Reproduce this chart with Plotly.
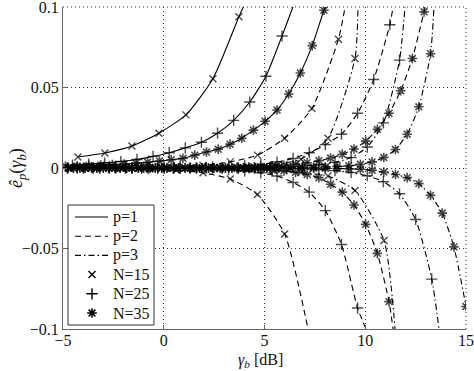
import plotly.graph_objects as go

# ---------------- data ----------------
# x grids of the sampled points (one grid per p / N combination)
g15_p1 = [-4.26, -2.92, -1.58, -0.24, 1.1, 2.44, 3.73]
g15_p2 = [-4.7, -3.37, -2.04, -0.71, 0.62, 1.95, 3.3, 4.65, 6.0, 7.35, 8.67]
g15_p3 = [-3.91, -2.57, -1.23, 0.11, 1.45, 2.79, 4.13, 5.47, 6.81, 8.15, 9.49, 10.93]

g25_p1 = [-4.53, -3.73, -2.93, -2.13, -1.33, -0.53, 0.27, 1.07, 1.87, 2.67, 3.47, 4.27, 5.07, 5.87]
g25_p2 = [-4.78, -3.98, -3.18, -2.38, -1.58, -0.78, 0.02, 0.82, 1.62, 2.42, 3.22, 4.02, 4.82,
          5.62, 6.42, 7.22, 8.02, 8.82, 9.62, 10.42, 11.22]
g25_p3 = [-4.3, -3.5, -2.7, -1.9, -1.1, -0.3, 0.5, 1.3, 2.1, 2.9, 3.7, 4.5, 5.3, 6.1, 6.9,
          7.7, 8.5, 9.3, 10.1, 10.9, 11.7, 12.5, 13.3]

g35_p1 = [-4.88, -4.3, -3.71, -3.13, -2.55, -1.96, -1.38, -0.8, -0.21, 0.37, 0.95, 1.54, 2.12,
          2.7, 3.29, 3.87, 4.45, 5.03, 5.62, 6.2, 6.78, 7.37, 7.95]
g35_p2 = [-4.48, -3.9, -3.32, -2.74, -2.16, -1.58, -1.0, -0.42, 0.16, 0.74, 1.32, 1.9, 2.48,
          3.06, 3.64, 4.22, 4.8, 5.38, 5.96, 6.54, 7.12, 7.7, 8.28, 8.86, 9.44, 10.02, 10.6,
          11.18, 11.76, 12.34, 12.92]
g35_p3 = [-4.74, -4.16, -3.58, -3.0, -2.42, -1.84, -1.26, -0.68, -0.1, 0.48, 1.06, 1.64, 2.22,
          2.8, 3.38, 3.96, 4.54, 5.12, 5.7, 6.28, 6.86, 7.44, 8.02, 8.6, 9.18, 9.76, 10.34,
          10.92, 11.5, 12.08, 12.66, 13.24, 13.82, 14.4, 15.0]

# y values (upper "up" and lower "dn" branches)
y15_p1_up = [0.0068, 0.0093, 0.0136, 0.0216, 0.033, 0.0555, 0.094]
y15_p2_up = [0.0, 0.0001, 0.0002, 0.0004, 0.0008, 0.0016, 0.0038, 0.008, 0.0185, 0.037, 0.080]
y15_p2_dn = [0.0, -0.0001, -0.0003, -0.0006, -0.0013, -0.003, -0.0068, -0.0165, -0.041]
y15_p3_up = [0.0, 0.0, 0.0001, 0.0001, 0.0002, 0.0004, 0.0009, 0.002, 0.0055, 0.0185, 0.068]
y15_p3_dn = [0.0, 0.0, -0.0001, -0.0001, -0.0002, -0.0004, -0.0008, -0.0015, -0.0028, -0.005,
             -0.014, -0.045]

y25_p1_up = [0.0018, 0.0024, 0.0031, 0.004, 0.0053, 0.0072, 0.0095, 0.0125, 0.016, 0.0216,
             0.0296, 0.041, 0.057, 0.082]
y25_p2_up = [0.0, 0.0, 0.0, 0.0, 0.0, 0.0001, 0.0001, 0.0002, 0.0003, 0.0005, 0.0008, 0.0013,
             0.0022, 0.0037, 0.006, 0.0095, 0.0145, 0.021, 0.034, 0.055, 0.089]
y25_p2_dn = [0.0, 0.0, 0.0, 0.0, -0.0001, -0.0001, -0.0001, -0.0002, -0.0003, -0.0006, -0.001,
             -0.0018, -0.003, -0.005, -0.009, -0.015, -0.0265, -0.0475, -0.087]
y25_p3_up = [0.0, 0.0, 0.0, 0.0, 0.0, 0.0, 0.0, 0.0, 0.0, 0.0001, 0.0001, 0.0002, 0.0004,
             0.0007, 0.0012, 0.002, 0.0035, 0.0065, 0.013, 0.028, 0.067]
y25_p3_dn = [0.0, 0.0, 0.0, 0.0, 0.0, 0.0, 0.0, 0.0, 0.0, -0.0001, -0.0001, -0.0001, -0.0002,
             -0.0003, -0.0005, -0.0009, -0.0016, -0.0028, -0.0048, -0.0085, -0.016, -0.032, -0.069]

y35_p1_up = [0.0011, 0.0013, 0.0015, 0.0018, 0.0021, 0.0025, 0.003, 0.0036, 0.0043, 0.0051,
             0.006, 0.008, 0.0099, 0.0117, 0.0148, 0.0185, 0.0235, 0.029, 0.036, 0.046, 0.059,
             0.076, 0.098]
y35_p2_up = [0.0, 0.0, 0.0, 0.0, 0.0, 0.0, 0.0, 0.0, 0.0, 0.0, 0.0001, 0.0001, 0.0002, 0.0003,
             0.0004, 0.0006, 0.0009, 0.0012, 0.0017, 0.0024, 0.0033, 0.0045, 0.0062, 0.0085,
             0.0118, 0.0167, 0.024, 0.034, 0.048, 0.068, 0.097]
y35_p2_dn = [0.0, 0.0, 0.0, 0.0, 0.0, 0.0, 0.0, 0.0, 0.0, 0.0, -0.0001, -0.0001, -0.0001,
             -0.0002, -0.0003, -0.0005, -0.0008, -0.0012, -0.0018, -0.0027, -0.004, -0.006,
             -0.0101, -0.015, -0.023, -0.035, -0.053, -0.083]
y35_p3_up = [0.0] * 17 + [0.0001, 0.0001, 0.0002, 0.0003, 0.0004, 0.0006, 0.0009, 0.0014,
                          0.0023, 0.0038, 0.0065, 0.0115, 0.021, 0.038, 0.071]
y35_p3_dn = [0.0] * 20 + [-0.0001, -0.0001, -0.0002, -0.0003, -0.0005, -0.0008, -0.0014,
                          -0.0025, -0.004, -0.006, -0.0097, -0.017, -0.028, -0.049, -0.086]

# x where each branch leaves the frame (None: stays inside)
exit_x = {
    "15_p1_up": 3.95, "15_p2_up": 9.0, "15_p2_dn": 7.16, "15_p3_up": 9.64, "15_p3_dn": 11.48,
    "25_p1_up": 6.41, "25_p2_up": 11.38, "25_p2_dn": 10.04, "25_p3_up": 11.97, "25_p3_dn": 13.66,
    "35_p1_up": 8.03, "35_p2_up": 12.98, "35_p2_dn": 11.38, "35_p3_up": 13.41, "35_p3_dn": None,
}

x_ticks = [-5, 0, 5, 10, 15]
x_ticktext = ["\u22125", "0", "5", "10", "15"]
y_ticks = [-0.1, -0.05, 0, 0.05, 0.1]
y_ticktext = ["\u22120.1", "\u22120.05", "0", "0.05", "0.1"]

legend_p = ["p=1", "p=2", "p=3"]
legend_n = ["N=15", "N=25", "N=35"]

# ---------------- styles ----------------
FONT = "Liberation Serif, Times New Roman, serif"
INK = "#111"
dash_of = {"p1": "solid", "p2": "6px,4px", "p3": "6px,3px,1.5px,3px"}
sym_of = {"15": ("x-thin", 7, 1.4), "25": ("cross-thin", 8, 1.4), "35": ("asterisk", 8, 1.6)}

series = [
    ("15", "p1", "up", g15_p1, y15_p1_up), ("15", "p2", "up", g15_p2, y15_p2_up),
    ("15", "p2", "dn", g15_p2, y15_p2_dn), ("15", "p3", "up", g15_p3, y15_p3_up),
    ("15", "p3", "dn", g15_p3, y15_p3_dn),
    ("25", "p1", "up", g25_p1, y25_p1_up), ("25", "p2", "up", g25_p2, y25_p2_up),
    ("25", "p2", "dn", g25_p2, y25_p2_dn), ("25", "p3", "up", g25_p3, y25_p3_up),
    ("25", "p3", "dn", g25_p3, y25_p3_dn),
    ("35", "p1", "up", g35_p1, y35_p1_up), ("35", "p2", "up", g35_p2, y35_p2_up),
    ("35", "p2", "dn", g35_p2, y35_p2_dn), ("35", "p3", "up", g35_p3, y35_p3_up),
    ("35", "p3", "dn", g35_p3, y35_p3_dn),
]

fig = go.Figure()
for n, p, br, grid, yv in series:
    xs = list(grid[:len(yv)])
    ys = list(yv)
    sym, size, lw = sym_of[n]
    sizes = [size] * len(xs)
    ex = exit_x[f"{n}_{p}_{br}"]
    if ex is not None:
        xs.append(ex)
        ys.append(0.1 if br == "up" else -0.1)
        sizes.append(0)
    fig.add_trace(go.Scatter(
        x=xs, y=ys, mode="lines+markers", showlegend=False, hoverinfo="skip",
        line=dict(color="black", width=1.1, dash=dash_of[p], shape="spline", smoothing=0.6),
        marker=dict(symbol=sym, size=sizes, color="black", line=dict(color="black", width=lw)),
    ))

# ---------------- legend box (drawn on an overlay axis in plot pixels) ----------------
ML, MR, MT, MB = 63, 8, 7, 42
PW, PH = 474 - ML - MR, 371 - MT - MB          # plot area size in px
box_x0, box_x1, box_y0, box_y1 = 5, 91, 4, 124
row_y = [112, 92.8, 73.6, 54.4, 35.2, 16]
samp_x0, samp_x1, mark_x, text_x = 12, 45, 29, 48

fig.add_trace(go.Scatter(
    x=[box_x0, box_x1, box_x1, box_x0, box_x0], y=[box_y0, box_y0, box_y1, box_y1, box_y0],
    xaxis="x2", yaxis="y2", mode="lines", fill="toself", fillcolor="white",
    line=dict(color="#333", width=1), showlegend=False, hoverinfo="skip"))
for ry, key in zip(row_y[:3], ["p1", "p2", "p3"]):
    fig.add_trace(go.Scatter(
        x=[samp_x0, samp_x1], y=[ry, ry], xaxis="x2", yaxis="y2", mode="lines",
        line=dict(color="black", width=1.1, dash=dash_of[key]), showlegend=False,
        hoverinfo="skip"))
for ry, key in zip(row_y[3:], ["15", "25", "35"]):
    sym, size, lw = sym_of[key]
    fig.add_trace(go.Scatter(
        x=[mark_x], y=[ry], xaxis="x2", yaxis="y2", mode="markers",
        marker=dict(symbol=sym, size=size, color="black", line=dict(color="black", width=lw)),
        showlegend=False, hoverinfo="skip"))

annotations = []
for ry, label in zip(row_y, legend_p + legend_n):
    annotations.append(dict(x=text_x, y=ry, xref="x2", yref="y2", text=label,
                            showarrow=False, xanchor="left", yanchor="middle",
                            font=dict(family=FONT, size=16, color=INK)))
# axis titles
annotations.append(dict(x=0.49, y=-(371 - (371 - MB)) / PH, xref="paper", yref="paper",
                        text="<i>γ<sub>b</sub></i> [dB]", showarrow=False, borderpad=0,
                        xanchor="center", yanchor="bottom",
                        font=dict(family=FONT, size=16, color=INK)))
annotations.append(dict(x=(17 - ML) / PW, y=0.5, xref="paper", yref="paper",
                        text="<i>ê<sub>p</sub></i>(<i>γ<sub>b</sub></i>)", showarrow=False,
                        textangle=-90, xanchor="center", yanchor="middle",
                        font=dict(family=FONT, size=18, color=INK)))

axis_common = dict(
    showgrid=True, gridcolor="#333", griddash="1px,3px", gridwidth=1,
    showline=True, linecolor="#666", linewidth=1, mirror=False,
    ticks="inside", ticklen=4, tickcolor="#666", zeroline=False,
    ticklabeloverflow="allow", automargin=False,
    tickfont=dict(family=FONT, size=16, color=INK),
)

# dotted frame lines at top and right (grid lines at the range edges)
shapes = [
    dict(type="line", xref="paper", yref="paper", x0=0, x1=1, y0=1, y1=1,
         line=dict(color="#333", width=1, dash="1px,3px"), layer="below"),
    dict(type="line", xref="paper", yref="paper", x0=1, x1=1, y0=0, y1=1,
         line=dict(color="#333", width=1, dash="1px,3px"), layer="below"),
]

fig.update_layout(
    width=474, height=371,
    margin=dict(l=ML, r=MR, t=MT, b=MB, autoexpand=False),
    paper_bgcolor="white", plot_bgcolor="white",
    font=dict(family=FONT, size=16, color=INK),
    xaxis=dict(range=[-5, 15], tickvals=x_ticks, ticktext=x_ticktext,
               ticklabelstandoff=-3, **axis_common),
    yaxis=dict(range=[-0.1, 0.1], tickvals=y_ticks, ticktext=y_ticktext, **axis_common),
    xaxis2=dict(range=[0, PW], overlaying="x", anchor="y2", visible=False, fixedrange=True),
    yaxis2=dict(range=[0, PH], overlaying="y", anchor="x2", visible=False, fixedrange=True),
    annotations=annotations, shapes=shapes,
    showlegend=False,
)

fig.write_html("out.html")
